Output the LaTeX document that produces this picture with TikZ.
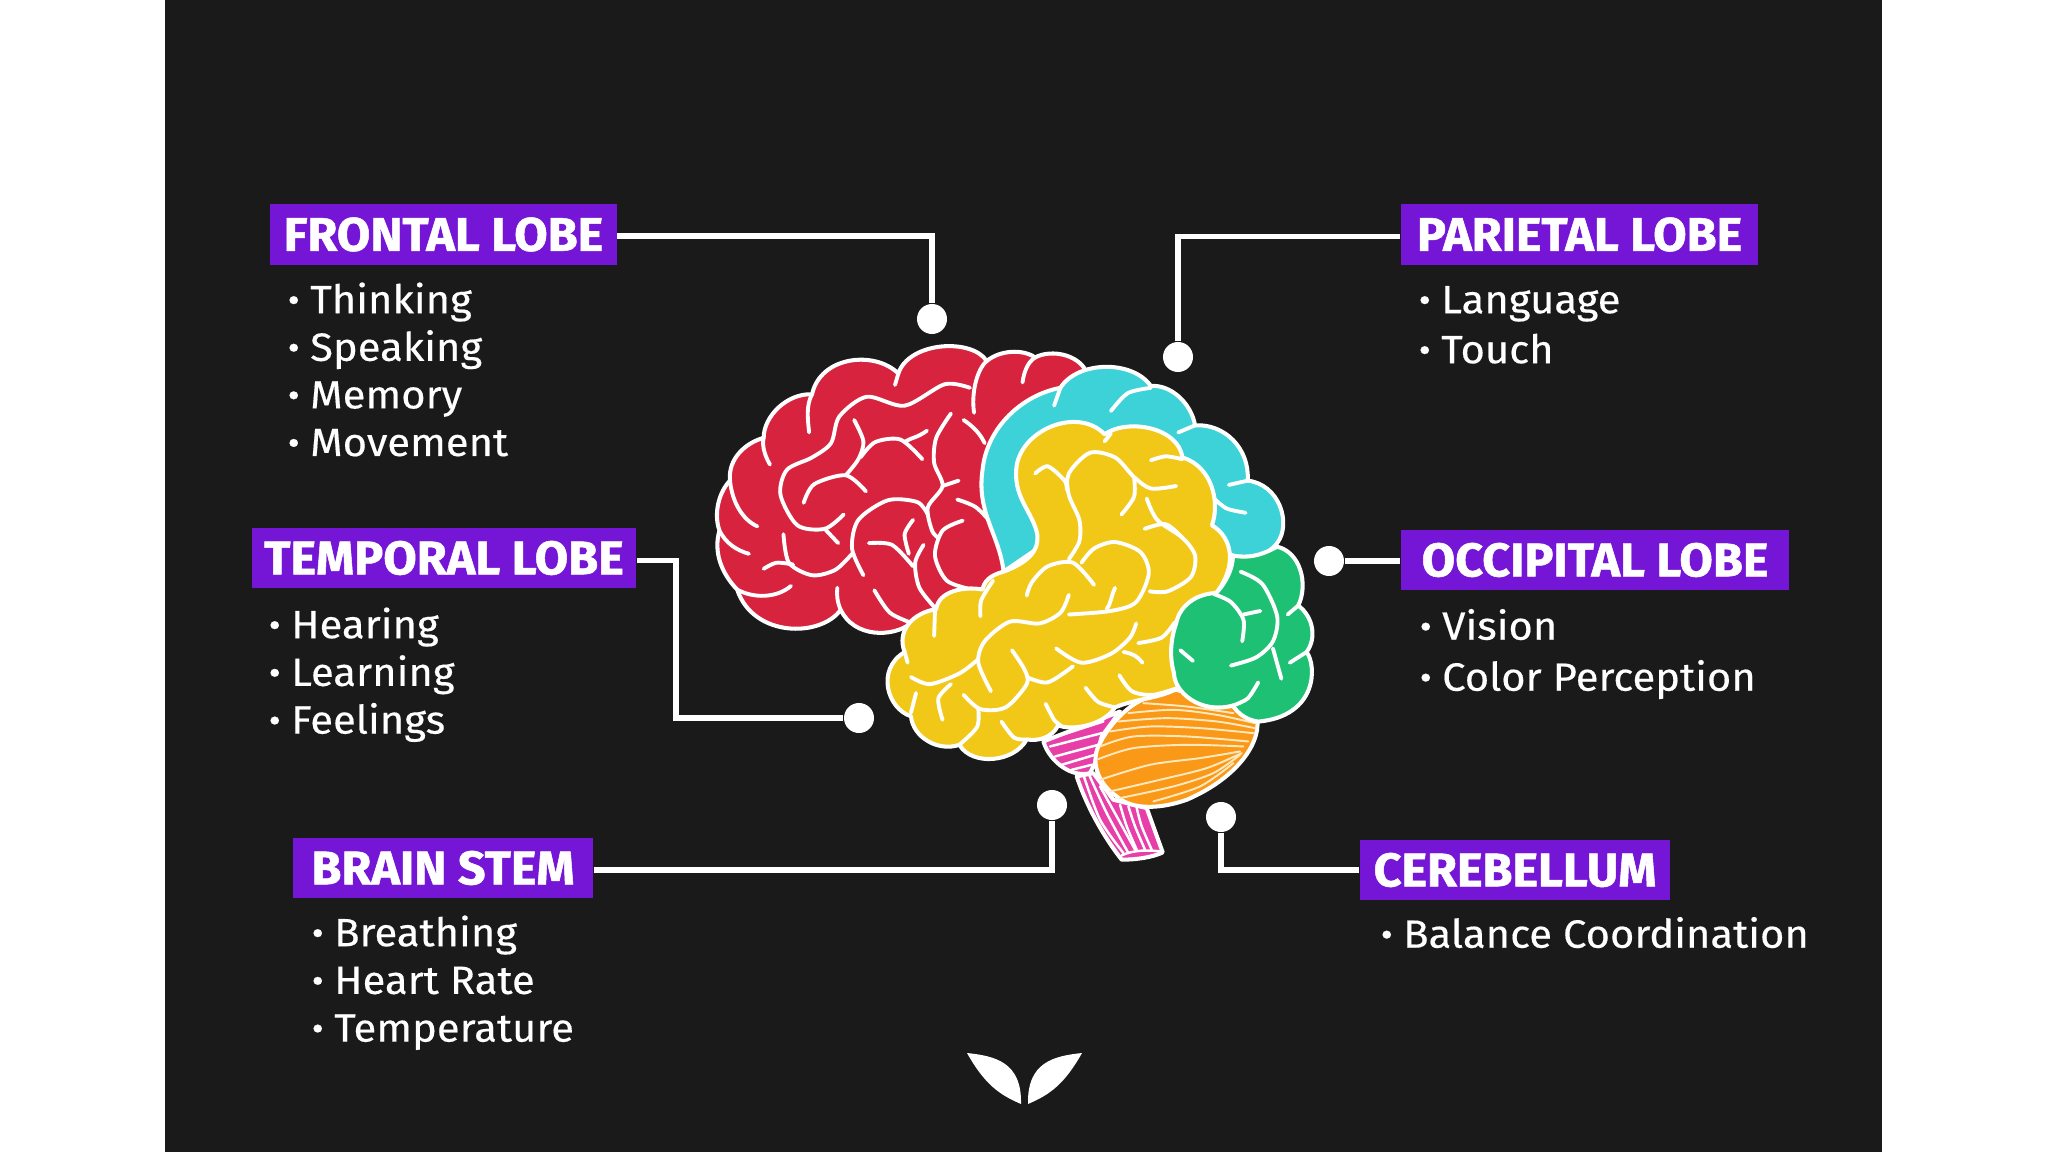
\documentclass[tikz,border=0pt]{standalone}
\usepackage{fontspec}
\setmainfont[FakeStretch=1.06, FakeBold=0.35, BoldFeatures={FakeStretch=1.03, FakeBold=1.1}]{Fira Sans}
\usetikzlibrary{positioning}
\definecolor{panel}{RGB}{26, 26, 26}
\definecolor{tag}{RGB}{117, 22, 214}
\definecolor{lobered}{RGB}{216, 35, 62}
\definecolor{lobecyan}{RGB}{60, 210, 216}
\definecolor{lobeyellow}{RGB}{242, 200, 24}
\definecolor{lobegreen}{RGB}{30, 192, 115}
\definecolor{lobeorange}{RGB}{250, 152, 24}
\definecolor{lobepink}{RGB}{232, 62, 168}
\definecolor{stripecream}{RGB}{255, 232, 190}
\newcommand{\itemdot}{\makebox[0.225cm][l]{\raisebox{0.05ex}{\fontsize{10}{10}\selectfont •}}}

\begin{document}
\begin{tikzpicture}[
   x=0.01cm, y=-0.01cm,
   tagbox/.style={rectangle, fill=tag, text=white, inner sep=0,
                  minimum height=0.605cm, font=\fontsize{13.4}{15}\selectfont\bfseries},
   listtext/.style={anchor=base west, text=white, inner sep=0, font=\fontsize{11.2}{13}\selectfont},
   leaddot/.style={circle, fill=white, inner sep=0, minimum size=0.3cm},
   lead/.style={draw=white, line width=1.6},
   lobe/.style={draw=white, line width=1.15, line join=round},
   sulcus/.style={draw=white, line width=1.1, line cap=round},
   stripe/.style={draw=stripecream, line width=0.55, line cap=round},
   pinkstripe/.style={draw=white, line width=0.7, line cap=round}
  ]
  \useasboundingbox (0, 0) rectangle (2048, 1152);
  \fill[white] (0, 0) rectangle (2048, 1152);
  \fill[panel] (165, 0) rectangle (1882, 1152);

  % Brain, in the units of the crop
  \begin{scope}[shift={(690, 320)}, xscale=0.4209, yscale=0.357]
    % Frontal
    \draw[lobe, fill=lobered] (358, 812) .. controls (310, 890) and (150, 890) .. (112, 755)
      .. controls (75, 710) and (55, 650) .. (70, 590)
      .. controls (55, 540) and (70, 480) .. (95, 450)
      .. controls (90, 390) and (130, 345) .. (175, 330)
      .. controls (175, 270) and (230, 205) .. (290, 208)
      .. controls (310, 100) and (440, 85) .. (495, 150)
      .. controls (520, 60) and (670, 50) .. (705, 115)
      .. controls (735, 85) and (790, 80) .. (820, 105)
      .. controls (850, 85) and (910, 90) .. (937, 135)
      -- (900, 400) -- (760, 720) -- (580, 810) -- (525, 850)
      .. controls (480, 890) and (390, 890) .. (358, 812) -- cycle;
    \draw[sulcus] (290, 208) .. controls (275, 240) and (280, 280) .. (283, 315);
    \draw[sulcus] (175, 330) .. controls (170, 355) and (180, 385) .. (190, 405);
    \draw[sulcus] (95, 450) .. controls (100, 510) and (125, 560) .. (160, 578);
    \draw[sulcus] (70, 590) .. controls (85, 625) and (110, 645) .. (140, 655);
    \draw[sulcus] (112, 755) .. controls (150, 780) and (205, 780) .. (240, 745);
    \draw[sulcus] (358, 812) .. controls (350, 790) and (348, 770) .. (350, 750);
    \draw[sulcus] (495, 150) -- (487, 182);
    \draw[sulcus] (705, 115) .. controls (680, 140) and (668, 210) .. (675, 260);
    \draw[sulcus] (820, 105) .. controls (800, 120) and (793, 150) .. (790, 175);
    \draw[sulcus] plot[smooth] coordinates {(665, 190) (605, 180) (510, 240) (420, 215) (355, 270) (335, 345) (290, 385) (230, 420) (215, 490) (255, 575) (320, 585) (365, 545)};
    \draw[sulcus] (320, 585) -- (352, 625);
    \draw[sulcus] plot[smooth] coordinates {(270, 512) (295, 460) (370, 435) (418, 480)};
    \draw[sulcus] plot[smooth] coordinates {(390, 280) (412, 340) (400, 390) (370, 435)};
    \draw[sulcus] plot[smooth] coordinates {(405, 385) (440, 342) (500, 335) (552, 390)};
    \draw[sulcus] (563, 310) .. controls (540, 330) and (525, 330) .. (512, 340);
    \draw[sulcus] plot[smooth] coordinates {(620, 262) (585, 330) (580, 400) (600, 465) (565, 525) (575, 590) (590, 610)};
    \draw[sulcus] (600, 465) -- (638, 450);
    \draw[sulcus] (650, 280) .. controls (675, 300) and (690, 320) .. (700, 345);
    \draw[sulcus] plot[smooth] coordinates {(635, 503) (680, 525) (725, 580)};
    \draw[sulcus] plot[smooth] coordinates {(648, 562) (600, 590) (582, 660) (610, 730) (670, 755)};
    \draw[sulcus] plot[smooth] coordinates {(412, 715) (385, 640) (400, 560) (470, 505) (540, 510) (565, 545)};
    \draw[sulcus] plot[smooth] coordinates {(385, 655) (345, 700) (290, 715) (235, 680) (222, 600)};
    \draw[sulcus] plot[smooth] coordinates {(175, 697) (205, 680) (245, 685)};
    \draw[sulcus] plot[smooth] coordinates {(425, 625) (480, 630) (530, 690)};
    \draw[sulcus] plot[smooth] coordinates {(530, 560) (510, 600) (520, 655)};
    \draw[sulcus] plot[smooth] coordinates {(555, 630) (535, 680) (545, 750) (585, 810)};
    \draw[sulcus] plot[smooth] coordinates {(438, 757) (475, 820) (530, 850)};

    % Parietal
    \draw[lobe, fill=lobecyan] (745, 705) .. controls (735, 600) and (680, 540) .. (695, 420)
      .. controls (705, 300) and (790, 210) .. (880, 190)
      .. controls (920, 115) and (1050, 110) .. (1095, 185)
      .. controls (1140, 180) and (1190, 230) .. (1200, 295)
      .. controls (1270, 290) and (1330, 360) .. (1325, 450)
      .. controls (1400, 460) and (1430, 570) .. (1395, 625)
      .. controls (1370, 665) and (1320, 670) .. (1290, 660)
      -- (1000, 500) -- cycle;
    \draw[sulcus] (880, 190) -- (865, 240);
    \draw[sulcus] plot[smooth] coordinates {(1095, 190) (1040, 205) (1000, 255)};
    \draw[sulcus] (1200, 295) -- (1160, 315);
    \draw[sulcus] (1325, 450) -- (1280, 462);
    \draw[sulcus] plot[smooth] coordinates {(1245, 500) (1275, 528) (1320, 540)};

    % Brain stem and cerebellum, in the units of a closer crop
    \begin{scope}[shift={(736.6, 1008)}, xscale=0.792, yscale=0.933]
      \draw[lobe, fill=lobepink] (130, 185) -- (360, 95) -- (305, 170) -- (285, 250)
        -- (270, 280) .. controls (220, 295) and (150, 250) .. (130, 185) -- cycle;
      \foreach \A/\B/\C/\D in {140/180/310/125, 150/200/305/160, 165/230/295/195, 185/255/285/225, 215/270/275/255, 320/110/355/100} {
        \draw[pinkstripe] (\A, \B) -- (\C, \D);
      }
      \draw[lobe, fill=lobepink] (230, 290) -- (280, 280) -- (340, 360) -- (440, 385)
        -- (488, 518) .. controls (460, 532) and (410, 540) .. (365, 540)
        .. controls (310, 470) and (260, 380) .. (230, 290) -- cycle;
      \foreach \A/\B/\C/\D/\E/\F in {250/285/300/420/370/520, 265/280/320/400/385/520, 300/320/350/410/405/510, 360/375/380/440/410/510, 385/380/405/440/435/510, 410/385/425/440/455/510} {
        \draw[pinkstripe] plot[smooth] coordinates {(\A, \B) (\C, \D) (\E, \F)};
      }
      \draw[pinkstripe] (365, 527) .. controls (400, 510) and (450, 510) .. (486, 516);

      \draw[lobe, fill=lobeorange] (380, 90) .. controls (420, 55) and (480, 35) .. (530, 30)
        -- (700, 80) -- (772, 120)
        .. controls (780, 200) and (700, 300) .. (560, 360)
        .. controls (490, 385) and (400, 395) .. (350, 350)
        .. controls (290, 310) and (270, 240) .. (300, 190)
        .. controls (320, 150) and (350, 115) .. (380, 90) -- cycle;
      \draw[stripe] plot[smooth] coordinates {(300, 300) (450, 255) (600, 235) (720, 215)};
      \draw[stripe] plot[smooth] coordinates {(295, 238) (400, 205) (560, 195) (730, 200)};
      \draw[stripe] plot[smooth] coordinates {(300, 200) (400, 170) (560, 170) (745, 185)};
      \draw[stripe] plot[smooth] coordinates {(330, 155) (450, 140) (600, 145) (760, 160)};
      \draw[stripe] plot[smooth] coordinates {(355, 125) (500, 115) (650, 125) (765, 145)};
      \draw[stripe] plot[smooth] coordinates {(385, 100) (520, 90) (650, 105) (765, 130)};
      \draw[stripe] plot[smooth] coordinates {(430, 70) (560, 80) (700, 100)};
      \draw[stripe] plot[smooth] coordinates {(330, 335) (480, 300) (620, 265) (725, 220)};
      \draw[stripe] plot[smooth] coordinates {(360, 355) (520, 320) (640, 280) (720, 225)};
      \draw[stripe] plot[smooth] coordinates {(460, 365) (600, 320) (700, 250)};
    \end{scope}

    % Temporal
    \draw[lobe, fill=lobeyellow] (745, 705) .. controls (800, 680) and (830, 650) .. (825, 600)
      .. controls (815, 540) and (770, 500) .. (775, 420)
      .. controls (780, 310) and (920, 240) .. (985, 320)
      .. controls (1040, 275) and (1160, 300) .. (1170, 385)
      .. controls (1240, 410) and (1260, 510) .. (1240, 575)
      .. controls (1290, 610) and (1300, 690) .. (1250, 765)
      -- (1150, 850) -- (1160, 1030)
      .. controls (1120, 1060) and (1060, 1060) .. (1010, 1085)
      .. controls (980, 1140) and (900, 1150) .. (875, 1135)
      .. controls (860, 1170) and (830, 1180) .. (800, 1175)
      .. controls (770, 1240) and (670, 1250) .. (640, 1190)
      .. controls (590, 1210) and (530, 1170) .. (525, 1110)
      .. controls (470, 1090) and (440, 980) .. (510, 930)
      .. controls (490, 870) and (530, 820) .. (585, 810)
      .. controls (590, 760) and (650, 745) .. (695, 755)
      .. controls (700, 720) and (730, 710) .. (745, 705) -- cycle;
    \draw[sulcus] (985, 340) -- (1000, 318);
    \draw[sulcus] plot[smooth] coordinates {(1095, 393) (1130, 382) (1170, 390)};
    \draw[sulcus] plot[smooth] coordinates {(1155, 465) (1095, 472) (1055, 440) (1010, 385) (950, 372) (900, 430) (900, 490) (925, 560) (925, 620) (900, 670)};
    \draw[sulcus] plot[smooth] coordinates {(820, 430) (850, 410) (890, 450) (895, 475)};
    \draw[sulcus] plot[smooth] coordinates {(1025, 545) (1055, 495) (1055, 440)};
    \draw[sulcus] plot[smooth] coordinates {(1085, 500) (1110, 560) (1170, 610) (1200, 660) (1190, 720) (1135, 760) (1092, 760)};
    \draw[sulcus] plot[smooth] coordinates {(1080, 585) (1130, 572) (1170, 610)};
    \draw[sulcus] plot[smooth] coordinates {(800, 772) (812, 735) (850, 690) (910, 680) (960, 742)};
    \draw[sulcus] plot[smooth] coordinates {(930, 680) (960, 640) (1010, 622) (1070, 650) (1090, 710) (1060, 790) (1000, 815) (900, 825)};
    \draw[sulcus] (1010, 750) .. controls (1000, 775) and (1000, 795) .. (990, 810);
    \draw[sulcus] plot[smooth] coordinates {(900, 770) (880, 820) (830, 850) (760, 845) (700, 900) (685, 960) (715, 1040)};
    \draw[sulcus] plot[smooth] coordinates {(690, 830) (692, 785) (720, 730)};
    \draw[sulcus] (580, 885) -- (582, 815);
    \draw[sulcus] (517, 960) -- (510, 930);
    \draw[sulcus] plot[smooth] coordinates {(525, 1000) (570, 1020) (640, 990) (685, 950)};
    \draw[sulcus] plot[smooth] coordinates {(620, 1020) (590, 1060) (600, 1120)};
    \draw[sulcus] (537, 1045) -- (525, 1100);
    \draw[sulcus] plot[smooth] coordinates {(650, 1050) (690, 1090) (750, 1085) (800, 1020) (795, 980) (765, 925)};
    \draw[sulcus] plot[smooth] coordinates {(800, 1000) (850, 1015) (910, 970)};
    \draw[sulcus] plot[smooth] coordinates {(870, 920) (930, 960) (1000, 935) (1045, 890) (1060, 850)};
    \draw[sulcus] (1030, 930) .. controls (1055, 935) and (1065, 945) .. (1075, 960);
    \draw[sulcus] plot[smooth] coordinates {(1065, 905) (1120, 890) (1150, 850)};
    \draw[sulcus] plot[smooth] coordinates {(940, 1030) (970, 1070) (1010, 1085)};
    \draw[sulcus] plot[smooth] coordinates {(1020, 995) (1050, 1040) (1100, 1050) (1160, 1030)};
    \draw[sulcus] plot[smooth] coordinates {(845, 1075) (865, 1120) (880, 1135)};
    \draw[sulcus] plot[smooth] coordinates {(740, 1125) (770, 1170) (800, 1175)};
    \draw[sulcus] plot[smooth] coordinates {(640, 1190) (682, 1140) (685, 1090)};

    % Occipital
    \draw[lobe, fill=lobegreen] (1290, 660) .. controls (1340, 670) and (1370, 650) .. (1395, 635)
      .. controls (1450, 650) and (1470, 740) .. (1445, 800)
      .. controls (1480, 830) and (1490, 890) .. (1465, 930)
      .. controls (1490, 970) and (1490, 1110) .. (1350, 1125)
      .. controls (1320, 1120) and (1300, 1100) .. (1290, 1080)
      .. controls (1210, 1105) and (1150, 1040) .. (1150, 990)
      .. controls (1140, 950) and (1140, 900) .. (1155, 850)
      .. controls (1165, 790) and (1215, 765) .. (1250, 765)
      .. controls (1270, 740) and (1290, 700) .. (1290, 660) -- cycle;
    \draw[sulcus] plot[smooth] coordinates {(1308, 705) (1360, 740) (1395, 830) (1385, 900) (1345, 945) (1285, 968)};
    \draw[sulcus] plot[smooth] coordinates {(1312, 900) (1315, 840) (1285, 790) (1245, 768)};
    \draw[sulcus] (1315, 825) -- (1355, 815);
    \draw[sulcus] (1445, 800) -- (1420, 825);
    \draw[sulcus] (1465, 930) -- (1425, 960);
    \draw[sulcus] (1385, 920) -- (1405, 1005);
    \draw[sulcus] (1165, 925) -- (1195, 955);
    \draw[sulcus] plot[smooth] coordinates {(1350, 1015) (1325, 1060) (1290, 1080)};
  \end{scope}

  % Labels
  \node (frontal) at (443.5, 234.5) [tagbox, minimum width=3.46cm] { FRONTAL LOBE };
  \node (temporal) at (444, 558) [tagbox, minimum width=3.84cm] { TEMPORAL LOBE };
  \node (stem) at (443, 868) [tagbox, minimum width=3cm] { BRAIN STEM };
  \node (parietal) at (1579.5, 234.5) [tagbox, minimum width=3.57cm] { PARIETAL LOBE };
  \node (occipital) at (1595, 560) [tagbox, minimum width=3.88cm] { OCCIPITAL LOBE };
  \node (cerebellum) at (1515, 870) [tagbox, minimum width=3.1cm] { CEREBELLUM };

  \foreach \T [count=\i] in {Thinking, Speaking, Memory, Movement} {
    \node (frontalitem\i) at (287, {313.2 + 47.6 * (\i - 1)}) [listtext] { \itemdot\T };
  }
  \foreach \T [count=\i] in {Hearing, Learning, Feelings} {
    \node (temporalitem\i) at (268, {638.2 + 47.7 * (\i - 1)}) [listtext] { \itemdot\T };
  }
  \foreach \T [count=\i] in {Breathing, Heart Rate, Temperature} {
    \node (stemitem\i) at (311, {946.2 + 47.7 * (\i - 1)}) [listtext] { \itemdot\T };
  }
  \foreach \T [count=\i] in {Language, Touch} {
    \node (parietalitem\i) at (1418, {313.2 + 50 * (\i - 1)}) [listtext] { \itemdot\T };
  }
  \foreach \T [count=\i] in {Vision, Color Perception} {
    \node (occipitalitem\i) at (1419, {639.7 + 51 * (\i - 1)}) [listtext] { \itemdot\T };
  }
  \node (cerebellumitem1) at (1380, 947.7) [listtext] { \itemdot Balance Coordination };

  % Leads
  \node (frontaldot) at (932, 319) [leaddot] {};
  \node (parietaldot) at (1178, 357) [leaddot] {};
  \node (occipitaldot) at (1329, 561) [leaddot] {};
  \node (temporaldot) at (859, 718) [leaddot] {};
  \node (stemdot) at (1052, 805) [leaddot] {};
  \node (cerebellumdot) at (1221, 817) [leaddot] {};

  \draw[lead] ([yshift=-0.012cm]frontal.east) -| (frontaldot);
  \draw[lead] ([yshift=-0.02cm]parietal.west) -| (parietaldot);
  \draw[lead] (occipitaldot) -- (occipitaldot -| occipital.west);
  \draw[lead] ([yshift=-0.025cm]temporal.east) -- ++(39, 0) |- (temporaldot);
  \draw[lead] ([yshift=-0.02cm]stem.east) -| (stemdot);
  \draw[lead] (cerebellum.west) -| (cerebellumdot);

  % Logo
  \fill[white] (967, 1053) .. controls (995, 1056) and (1022, 1062) .. (1021, 1104)
    .. controls (1000, 1095) and (985, 1085) .. (967, 1053) -- cycle;
  \fill[white] (1082, 1053) .. controls (1054, 1056) and (1027, 1062) .. (1028, 1104)
    .. controls (1049, 1095) and (1064, 1085) .. (1082, 1053) -- cycle;
\end{tikzpicture}
\end{document}
